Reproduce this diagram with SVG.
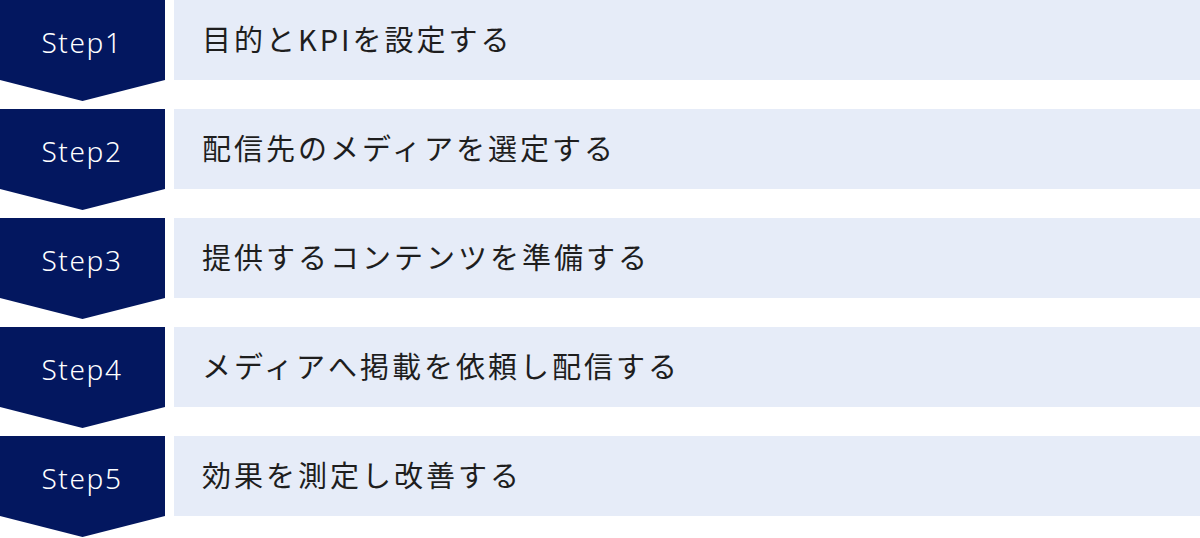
<svg xmlns="http://www.w3.org/2000/svg" width="1200" height="538" viewBox="0 0 1200 538">
<style>
.chev{fill:#03175F}
.bar{fill:#E6ECF8}
.step{font-family:"Noto Sans","Noto Sans CJK JP",sans-serif;font-size:28px;font-weight:300;fill:#fff;text-anchor:middle;letter-spacing:1.6px}
.lbl{font-family:"Noto Sans CJK JP","Noto Sans",sans-serif;font-size:29px;fill:#1e1e1e;letter-spacing:3px}
</style>
<rect width="1200" height="538" fill="#fff"/>
<g id="step1" transform="translate(0,0)">
<polygon class="chev" points="0,0 165,0 165,80 82.5,101 0,80"/>
<rect class="bar" x="174" y="0" width="1026" height="80"/>
<text class="step" x="82" y="53">Step1</text>
<text class="lbl" x="202" y="51">目的とKPIを設定する</text>
</g>
<g id="step2" transform="translate(0,109)">
<polygon class="chev" points="0,0 165,0 165,80 82.5,101 0,80"/>
<rect class="bar" x="174" y="0" width="1026" height="80"/>
<text class="step" x="82" y="53">Step2</text>
<text class="lbl" x="202" y="51">配信先のメディアを選定する</text>
</g>
<g id="step3" transform="translate(0,218)">
<polygon class="chev" points="0,0 165,0 165,80 82.5,101 0,80"/>
<rect class="bar" x="174" y="0" width="1026" height="80"/>
<text class="step" x="82" y="53">Step3</text>
<text class="lbl" x="202" y="51">提供するコンテンツを準備する</text>
</g>
<g id="step4" transform="translate(0,327)">
<polygon class="chev" points="0,0 165,0 165,80 82.5,101 0,80"/>
<rect class="bar" x="174" y="0" width="1026" height="80"/>
<text class="step" x="82" y="53">Step4</text>
<text class="lbl" x="202" y="51">メディアへ掲載を依頼し配信する</text>
</g>
<g id="step5" transform="translate(0,436)">
<polygon class="chev" points="0,0 165,0 165,80 82.5,101 0,80"/>
<rect class="bar" x="174" y="0" width="1026" height="80"/>
<text class="step" x="82" y="53">Step5</text>
<text class="lbl" x="202" y="51">効果を測定し改善する</text>
</g>
<g id="connectors"></g>
</svg>
